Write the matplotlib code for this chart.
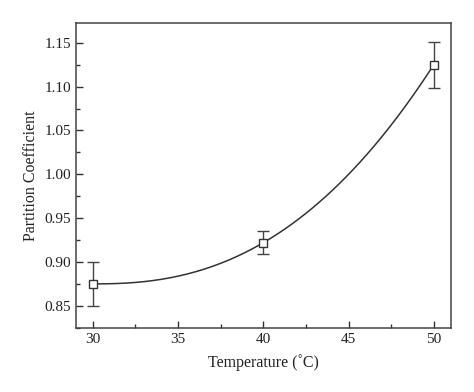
import numpy as np
import matplotlib
matplotlib.use("Agg")
import matplotlib.pyplot as plt
from matplotlib.ticker import MultipleLocator

# Data
temperature = [30, 40, 50]
partition = [0.875, 0.922, 1.125]
error = [0.025, 0.013, 0.026]

plt.rcParams['font.family'] = ['Liberation Serif', 'DejaVu Serif']

fig = plt.figure(figsize=(4.74, 3.92), dpi=100)
ax = fig.add_axes([0.160, 0.164, 0.791, 0.777])

# Power-law growth curve through the three points: y = y0 + b*(x - x0)**p
x0, y0 = temperature[0], partition[0]
p = np.log((partition[2] - y0) / (partition[1] - y0)) / np.log(2)
b = (partition[1] - y0) / (temperature[1] - x0) ** p
xs = np.linspace(temperature[0], temperature[-1], 200)
ax.plot(xs, y0 + b * (xs - x0) ** p, color='#333333', lw=1.1)

ax.errorbar(temperature, partition, yerr=error, fmt='s', ms=6,
            mfc='white', mec='#333333', mew=1.0, ecolor='#444444',
            elinewidth=1.0, capsize=4, capthick=1.0, zorder=3)

ax.set_xlim(29, 51)
ax.set_ylim(0.825, 1.1725)
ax.xaxis.set_major_locator(MultipleLocator(5))
ax.xaxis.set_minor_locator(MultipleLocator(2.5))
ax.yaxis.set_major_locator(MultipleLocator(0.05))
ax.yaxis.set_minor_locator(MultipleLocator(0.025))
ax.yaxis.set_major_formatter(plt.FormatStrFormatter('%.2f'))

ax.tick_params(which='both', direction='in', top=False, right=False,
               labelsize=11, color='#333333', labelcolor='#222222')
ax.tick_params(which='major', length=5, width=1)
ax.tick_params(which='minor', length=3, width=1)
for s in ax.spines.values():
    s.set_color('#444444')
    s.set_linewidth(1.1)

ax.set_xlabel('Temperature (˚C)', fontsize=11.5, color='#222222', labelpad=6.5)
ax.set_ylabel('Partition Coefficient', fontsize=11.5, color='#222222', labelpad=4)

fig.savefig('out.png', dpi=100)
